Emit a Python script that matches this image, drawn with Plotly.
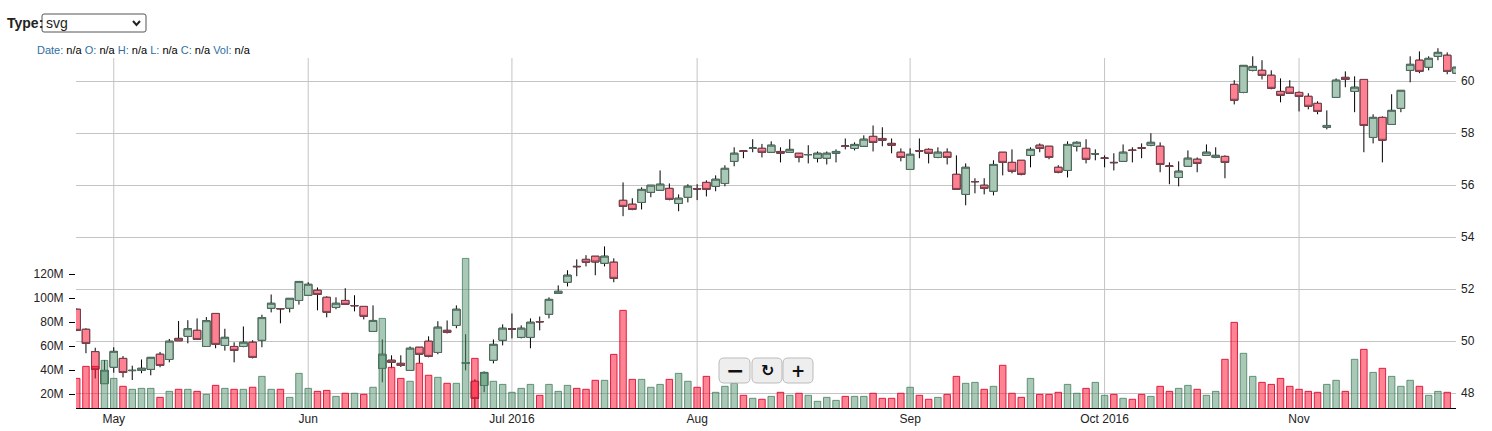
import pandas as pd
import plotly.graph_objects as go

# trading days, Apr 26 - Nov 25 2016, market holidays taken out
holidays = ['2016-05-30', '2016-07-04', '2016-09-05', '2016-11-24']
dates = [d.strftime('%Y-%m-%d') for d in pd.bdate_range('2016-04-26', '2016-11-25')
         if d.strftime('%Y-%m-%d') not in holidays]

opens = [51.22, 50.45, 49.59, 48.36, 48.99, 49.33, 48.86, 48.87, 48.91, 49.49,
         49.29, 50.10, 50.18, 50.41, 49.79, 51.06, 49.83, 49.79, 49.79, 49.95,
         50.03, 51.26, 51.25, 51.26, 51.56, 51.76, 51.95, 51.68, 51.29, 51.56,
         51.36, 51.33, 50.37, 48.95, 49.26, 49.14, 48.87, 49.76, 49.99, 49.56,
         50.41, 50.60, 49.15, 48.45, 48.29, 49.26, 50.03, 50.46, 50.14, 50.14,
         50.75, 51.03, 51.83, 52.26, 52.87, 53.14, 53.26, 52.99, 53.03, 55.41,
         55.26, 55.33, 55.72, 55.80, 55.87, 55.29, 55.53, 55.86, 56.10, 55.95,
         56.06, 56.91, 57.31, 57.42, 57.41, 57.26, 57.29, 57.26, 57.22, 57.17,
         57.03, 57.03, 57.22, 57.50, 57.41, 57.49, 57.87, 57.79, 57.60, 57.26,
         56.60, 57.32, 57.37, 57.06, 57.26, 56.41, 55.64, 56.13, 55.99, 55.76,
         57.26, 56.87, 56.95, 57.14, 57.53, 57.49, 56.68, 56.56, 57.49, 57.41,
         57.20, 57.03, 56.87, 56.91, 57.34, 57.43, 57.53, 57.49, 56.73, 56.29,
         56.72, 56.99, 57.14, 57.06, 57.10, 59.87, 59.56, 60.41, 60.41, 60.22,
         59.60, 59.76, 59.56, 59.41, 59.14, 58.22, 59.37, 60.14, 59.60, 60.06,
         57.83, 58.60, 58.33, 58.95, 60.41, 60.80, 60.53, 60.95, 60.99, 60.30]

highs = [51.25, 50.49, 49.74, 49.27, 49.76, 49.42, 49.05, 49.29, 49.37, 49.58,
         50.08, 50.77, 50.80, 50.87, 50.92, 51.06, 50.47, 49.95, 50.56, 50.03,
         51.01, 51.79, 51.26, 51.64, 52.29, 52.26, 52.06, 51.72, 51.68, 52.03,
         51.76, 51.33, 51.37, 50.06, 49.45, 49.45, 49.79, 49.76, 50.18, 50.76,
         50.79, 51.37, 50.26, 48.53, 48.83, 50.06, 50.64, 51.06, 50.60, 50.87,
         50.94, 51.68, 52.14, 52.72, 53.14, 53.30, 53.26, 53.64, 53.18, 56.10,
         55.49, 55.91, 55.99, 56.56, 56.06, 55.64, 56.03, 56.03, 56.18, 56.37,
         56.76, 57.45, 57.32, 57.76, 57.58, 57.68, 57.45, 57.76, 57.22, 57.53,
         57.29, 57.29, 57.37, 57.79, 57.64, 57.91, 58.29, 58.22, 57.79, 57.41,
         57.41, 57.79, 57.41, 57.45, 57.41, 57.14, 56.83, 56.26, 56.26, 56.95,
         57.26, 57.37, 56.95, 57.45, 57.60, 57.49, 56.76, 57.68, 57.68, 57.76,
         57.37, 57.14, 57.22, 57.56, 57.45, 57.60, 57.99, 57.64, 56.87, 56.91,
         57.33, 57.06, 57.56, 57.45, 57.14, 60.03, 60.60, 60.95, 60.80, 60.41,
         60.10, 60.03, 59.60, 59.53, 59.22, 58.87, 60.10, 60.37, 60.18, 60.06,
         58.72, 58.64, 59.49, 59.64, 60.95, 61.14, 60.95, 61.26, 61.10, 60.53]

lows = [50.38, 49.53, 48.56, 48.36, 48.78, 48.60, 48.50, 48.76, 48.68, 48.99,
        49.18, 50.01, 49.91, 50.06, 49.77, 49.72, 49.63, 49.18, 49.76, 49.33,
        49.76, 51.10, 50.68, 51.10, 51.40, 51.76, 51.18, 50.91, 51.22, 51.41,
        51.14, 50.83, 50.37, 48.41, 48.95, 49.00, 48.87, 49.14, 49.37, 49.49,
        50.29, 50.49, 48.87, 47.42, 48.03, 49.14, 49.83, 50.10, 50.10, 49.72,
        50.41, 50.87, 51.83, 52.10, 52.49, 52.87, 52.53, 52.87, 52.26, 54.80,
        55.03, 55.06, 55.53, 55.80, 55.41, 54.99, 55.33, 55.42, 55.56, 55.76,
        55.95, 56.72, 57.03, 57.26, 57.06, 57.26, 56.87, 57.26, 56.87, 56.83,
        56.87, 56.79, 56.87, 57.37, 57.33, 57.49, 57.29, 57.49, 57.22, 56.91,
        56.60, 57.03, 56.83, 57.03, 56.79, 55.83, 55.22, 55.68, 55.64, 55.60,
        56.37, 56.45, 56.37, 56.68, 57.26, 56.99, 56.45, 56.29, 57.29, 56.83,
        56.95, 56.68, 56.56, 56.91, 56.87, 57.03, 57.49, 56.49, 56.03, 55.95,
        56.72, 56.49, 57.14, 57.03, 56.26, 59.10, 59.53, 60.37, 60.06, 59.68,
        59.18, 59.53, 58.83, 58.91, 58.72, 58.14, 59.37, 59.76, 58.80, 57.26,
        57.60, 56.87, 58.33, 58.80, 59.95, 60.30, 60.41, 60.80, 60.26, 60.18]

closes = [50.41, 49.91, 48.91, 48.87, 49.60, 48.79, 48.87, 48.95, 49.37, 49.06,
          49.99, 50.01, 50.47, 50.06, 50.78, 49.87, 50.14, 49.64, 49.95, 49.37,
          50.90, 51.45, 51.24, 51.64, 52.29, 52.18, 51.79, 51.10, 51.45, 51.41,
          51.36, 50.95, 50.79, 49.49, 49.18, 49.06, 49.72, 49.49, 49.41, 50.53,
          50.33, 51.22, 49.16, 47.79, 48.79, 49.87, 50.49, 50.46, 50.49, 50.72,
          50.74, 51.60, 51.91, 52.53, 52.86, 53.03, 53.04, 53.26, 52.41, 55.18,
          55.06, 55.83, 55.99, 56.03, 55.45, 55.49, 55.95, 55.85, 55.83, 56.22,
          56.64, 57.22, 57.30, 57.42, 57.26, 57.53, 57.22, 57.37, 57.06, 57.17,
          57.22, 57.22, 57.29, 57.49, 57.56, 57.76, 57.64, 57.72, 57.53, 57.06,
          57.18, 57.31, 57.22, 57.26, 57.06, 55.83, 56.68, 56.13, 55.87, 56.79,
          56.87, 56.53, 56.41, 57.37, 57.41, 57.06, 56.49, 57.56, 57.64, 56.99,
          57.20, 57.03, 56.86, 57.26, 57.33, 57.42, 57.64, 56.79, 56.72, 56.53,
          57.03, 56.83, 57.26, 57.14, 56.87, 59.26, 60.60, 60.56, 60.22, 59.72,
          59.45, 59.53, 59.41, 59.03, 58.83, 58.29, 60.03, 60.06, 59.76, 58.29,
          58.60, 57.72, 58.87, 59.64, 60.64, 60.37, 60.87, 61.10, 60.37, 60.53]

# millions of shares, last day has no bar in view
volumes = [33, 43, 43, 48, 33, 26.4, 23.9, 24.7, 24.7, 17.2,
           22.2, 23.9, 23.9, 22.2, 19.7, 27.2, 24.7, 23.9, 23.9, 25.6,
           34.7, 23.9, 23.9, 17.2, 37.2, 24.7, 22.2, 23, 18, 20.6,
           20.6, 19.7, 25.6, 83, 42.2, 33, 30.6, 45.6, 35.6, 33.9,
           28.9, 28.9, 133, 49.7, 38, 30.6, 28, 21.4, 24.7, 28,
           18.9, 28, 22.2, 27.2, 24.7, 23.9, 31.4, 31.4, 53, 89.7,
           32.2, 32.2, 25.6, 28, 32.2, 37.2, 30.6, 25.6, 34.7, 21.4,
           26.4, 28.9, 18.9, 16.4, 15.6, 18, 21.4, 18.9, 20.6, 18.9,
           13.9, 17.2, 14.7, 18, 18, 18, 20.6, 16.4, 16.4, 20.6,
           25.6, 18.9, 15.6, 17.2, 19.7, 34.7, 28.9, 29.7, 23.9, 26.4,
           43.9, 20.6, 17.2, 33, 19.7, 19.7, 21.4, 28, 20.6, 24.7,
           29.7, 18.9, 19.7, 16.4, 15.6, 19.7, 18, 26.4, 22.2, 24.7,
           27.2, 23.9, 18.9, 22.2, 48.9, 79.7, 53.9, 34.7, 29.7, 28,
           33, 26.4, 23.9, 22.2, 21.4, 28, 31.4, 22.2, 48.9, 57.2,
           38, 41.4, 34.7, 26.4, 31.4, 26.4, 18.9, 22.2, 21.4, None]

month_ticks = ['2016-05-02', '2016-06-01', '2016-07-01', '2016-08-01', '2016-09-01', '2016-10-03', '2016-11-01']
month_labels = ['May', 'Jun', 'Jul 2016', 'Aug', 'Sep', 'Oct 2016', 'Nov']
price_ticks = [48, 50, 52, 54, 56, 58, 60]
volume_ticks = [20, 40, 60, 80, 100, 120]
volume_labels = ['20M', '40M', '60M', '80M', '100M', '120M']

up_fill = '#a9c9b6'
down_fill = '#ff8090'
up_edge = '#4f6f60'
down_edge = '#7a404e'
grid = '#c4c4c4'

# plot area in page pixels
left, right, top, bottom = 76, 1456, 46, 408

def px(x):
    return (x - left) / (right - left)

def py(y):
    return (bottom - y) / (bottom - top)

def rounded(x0, y0, x1, y1, r=5):
    return (f'M {px(x0 + r)} {py(y0)} L {px(x1 - r)} {py(y0)} Q {px(x1)} {py(y0)} {px(x1)} {py(y0 + r)} '
            f'L {px(x1)} {py(y1 - r)} Q {px(x1)} {py(y1)} {px(x1 - r)} {py(y1)} '
            f'L {px(x0 + r)} {py(y1)} Q {px(x0)} {py(y1)} {px(x0)} {py(y1 - r)} '
            f'L {px(x0)} {py(y0 + r)} Q {px(x0)} {py(y0)} {px(x0 + r)} {py(y0)} Z')

fig = go.Figure()

# wicks in black, bodies redrawn on top with their own outline
fig.add_trace(go.Candlestick(x=dates, open=opens, high=highs, low=lows, close=closes,
                             whiskerwidth=0, hoverinfo='skip', showlegend=False,
                             increasing=dict(line=dict(color='#000000', width=1), fillcolor=up_fill),
                             decreasing=dict(line=dict(color='#000000', width=1), fillcolor=down_fill)))
fig.add_trace(go.Candlestick(x=dates, open=opens, close=closes,
                             high=[max(o, c) for o, c in zip(opens, closes)],
                             low=[min(o, c) for o, c in zip(opens, closes)],
                             whiskerwidth=0, hoverinfo='skip', showlegend=False,
                             increasing=dict(line=dict(color=up_edge, width=1), fillcolor=up_fill),
                             decreasing=dict(line=dict(color=down_edge, width=1), fillcolor=down_fill)))

is_up = [c >= o for o, c in zip(opens, closes)]
fig.add_trace(go.Bar(x=dates, y=volumes, yaxis='y2', hoverinfo='skip', showlegend=False,
                     marker=dict(color=['rgba(83,145,110,0.5)' if u else 'rgba(255,10,40,0.5)' for u in is_up],
                                 line=dict(color=['rgba(60,120,90,0.75)' if u else 'rgba(222,10,50,0.9)' for u in is_up],
                                           width=1))))

fig.update_layout(
    width=1492, height=431,
    margin=dict(l=left, r=1492 - right, t=top, b=431 - bottom, pad=0, autoexpand=False),
    paper_bgcolor='white', plot_bgcolor='white',
    font=dict(family='Liberation Sans', size=12, color='#222222'),
    showlegend=False, boxgap=0.2, boxgroupgap=0, bargap=0.3,
    xaxis=dict(type='category', categoryorder='array', categoryarray=dates, automargin=False,
               range=[-0.076, 148.95], rangeslider=dict(visible=False),
               tickmode='array', tickvals=month_ticks, ticktext=month_labels,
               showgrid=False, showline=True, linecolor='#000000', linewidth=1, ticks='', ticklen=0),
    yaxis=dict(side='right', range=[47.423, 61.346], tickmode='array', tickvals=price_ticks,
               automargin=False, ticklabelstandoff=4,
               showgrid=True, gridcolor=grid, gridwidth=1, zeroline=False, showline=False, ticks=''),
    yaxis2=dict(side='left', overlaying='y', range=[8.33, 310], tickmode='array', tickvals=volume_ticks,
                ticktext=volume_labels, automargin=False, ticklabelstandoff=3,
                showgrid=False, zeroline=False, showline=False,
                ticks='outside', ticklen=6, tickcolor='#000000', tickwidth=1),
)

# vertical grid stops short of the top, the tallest wicks run above it
for d in month_ticks:
    fig.add_shape(type='line', xref='x', yref='paper', x0=d, x1=d, y0=0, y1=py(58),
                  line=dict(color=grid, width=1), layer='below')

# page controls: type selector and zoom buttons
fig.add_shape(type='path', xref='paper', yref='paper', path=rounded(42, 14, 146, 32, r=2),
              line=dict(color='#555555', width=1), fillcolor='white')
fig.add_shape(type='path', xref='paper', yref='paper',
              path=f'M {px(133)} {py(21)} L {px(136.5)} {py(25)} L {px(140)} {py(21)}',
              line=dict(color='#222222', width=2))
fig.add_annotation(xref='paper', yref='paper', x=px(5), y=py(23), text='<b>Type:</b>', showarrow=False,
                   xanchor='left', yanchor='middle', font=dict(size=14, color='#222222'))
fig.add_annotation(xref='paper', yref='paper', x=px(44), y=py(23), text='svg', showarrow=False,
                   xanchor='left', yanchor='middle', font=dict(size=14, color='#222222'))

blue = '#2f6f9f'
legend_items = ['Date:', 'O:', 'H:', 'L:', 'C:', 'Vol:']
legend_text = ' '.join(f'<span style="color:{blue}">{k}</span> n/a' for k in legend_items)
fig.add_annotation(xref='paper', yref='paper', x=px(35), y=py(50), text=legend_text, showarrow=False,
                   xanchor='left', yanchor='middle', font=dict(size=11, color='#000000'))

buttons = [(719, 750, '−', 22), (752, 782, '↻', 16), (783, 813, '+', 17)]
for x0, x1, label, size in buttons:
    fig.add_shape(type='path', xref='paper', yref='paper', path=rounded(x0, 358, x1, 383),
                  line=dict(color='#bbbbbb', width=1), fillcolor='#eeeeee')
    fig.add_annotation(xref='paper', yref='paper', x=px((x0 + x1) / 2), y=py(370.5), text=f'<b>{label}</b>',
                       showarrow=False, xanchor='center', yanchor='middle',
                       font=dict(family='DejaVu Sans', size=size, color='#111111'))

fig.write_html('out.html', config=dict(displayModeBar=False),
               post_script="document.body.style.margin='0';document.body.style.overflow='hidden';")
